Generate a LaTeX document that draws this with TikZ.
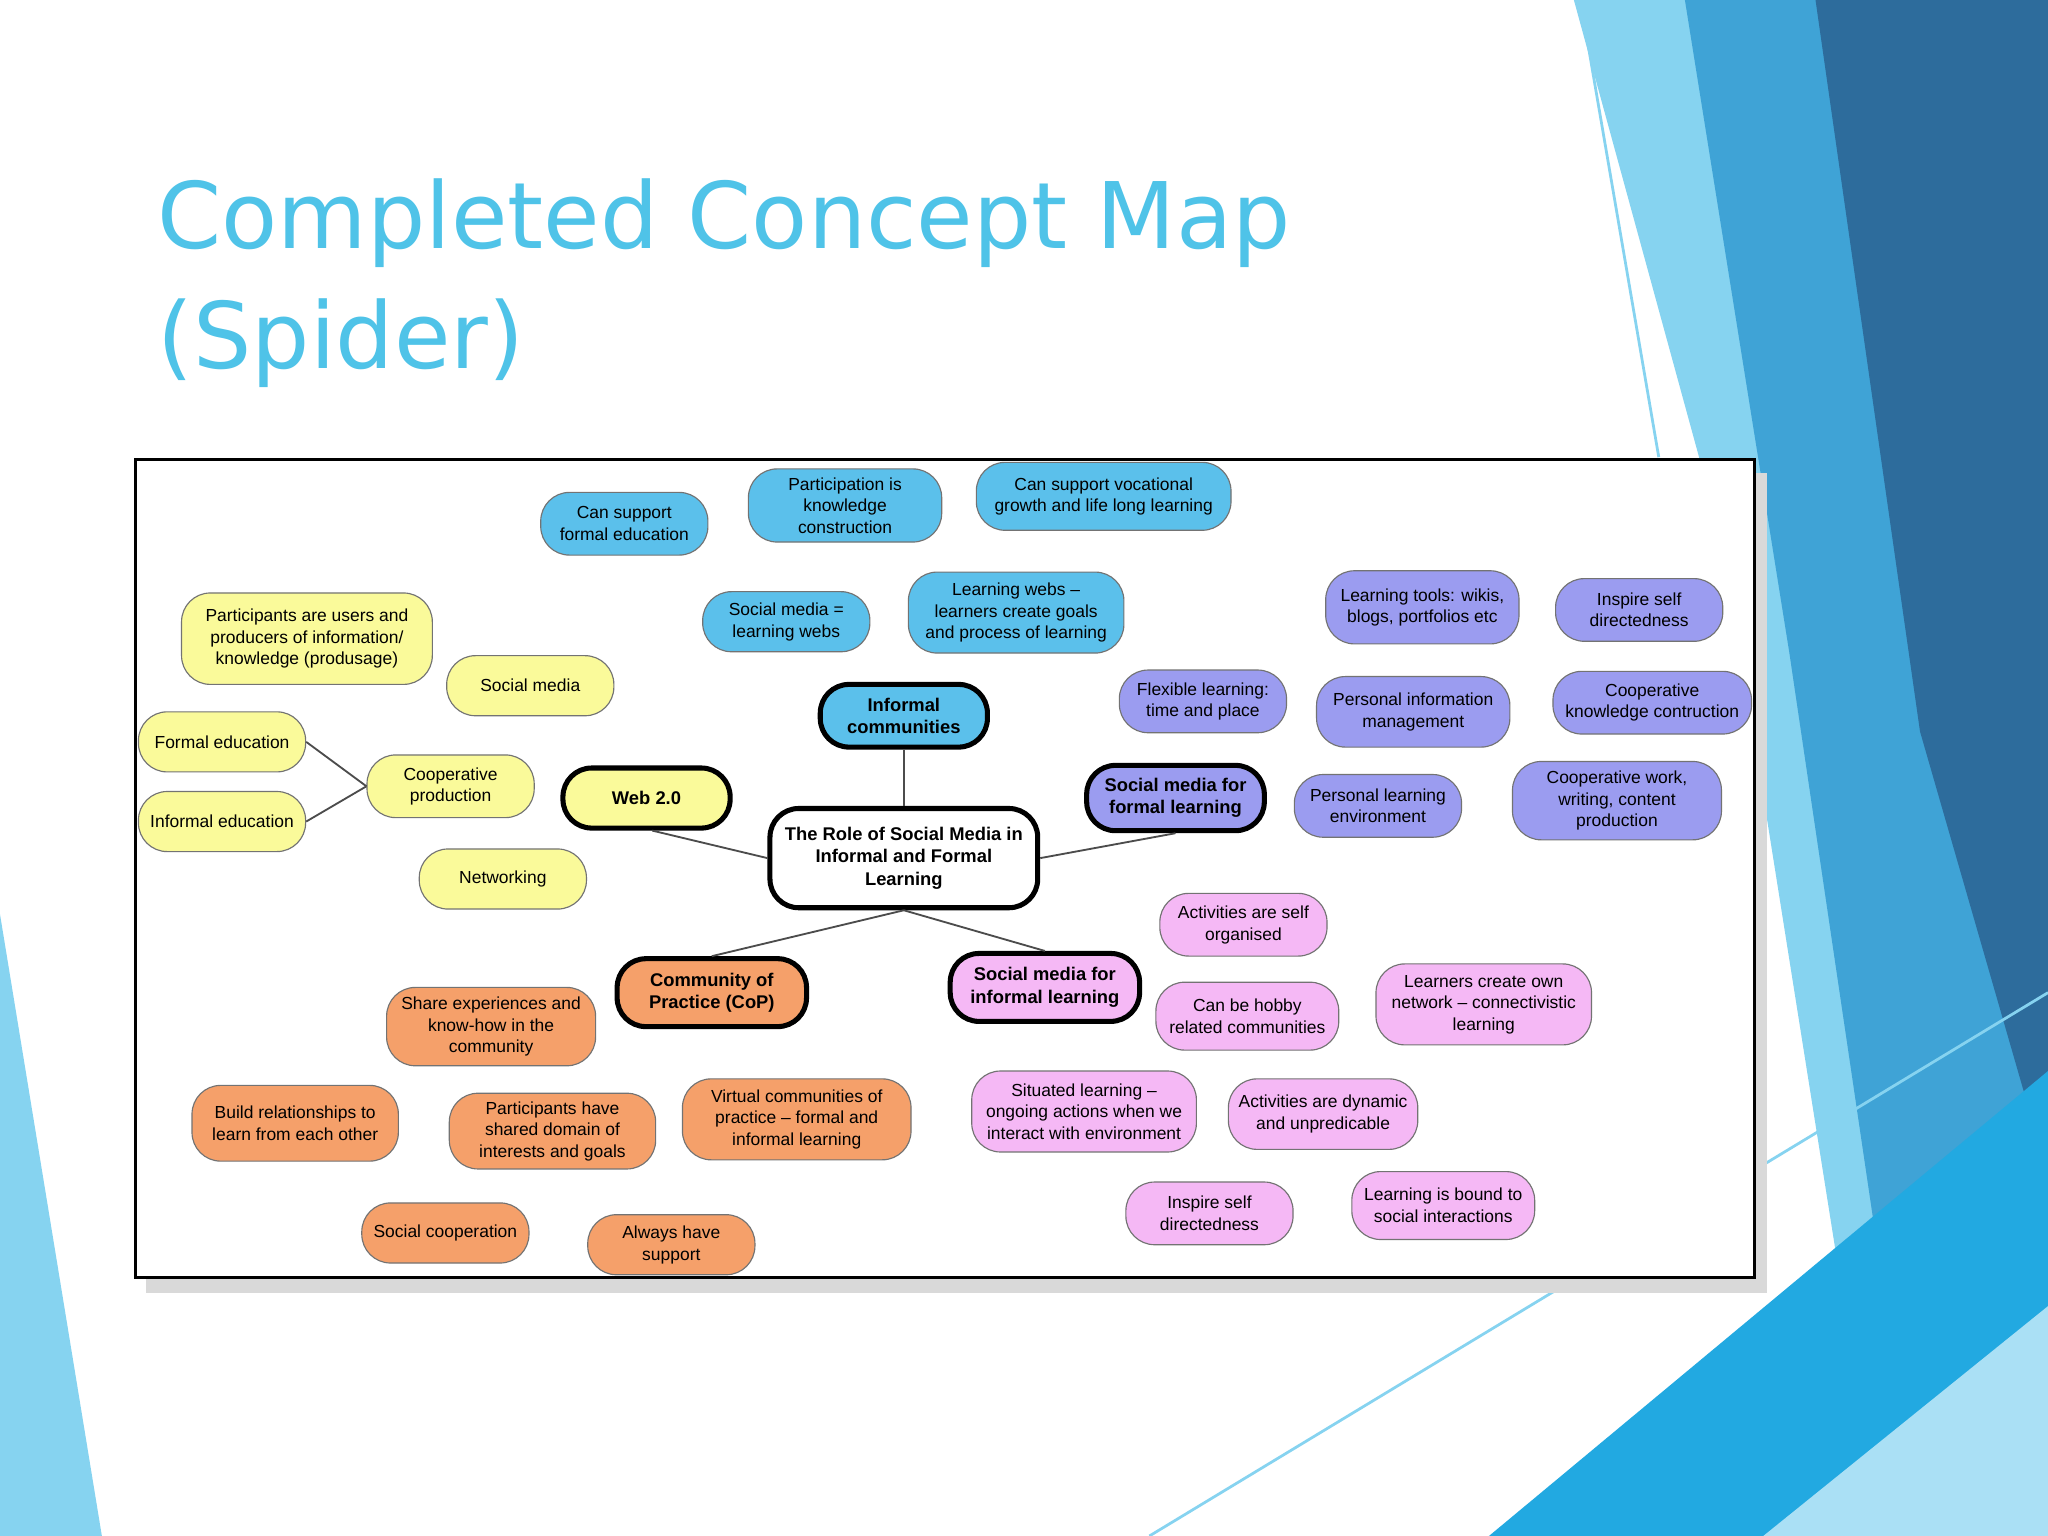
\documentclass[tikz,border=0pt]{standalone}
\usepackage{fontspec}
\setmainfont{Liberation Sans}
\newfontfamily\titlefont{DejaVu Sans}
\definecolor{ttl}{HTML}{4FC3E8}
\definecolor{cyel}{HTML}{FAFA9A}
\definecolor{cblu}{HTML}{5BC0EB}
\definecolor{cpur}{HTML}{9B9CF0}
\definecolor{cpin}{HTML}{F5B8F5}
\definecolor{cora}{HTML}{F5A06A}
\definecolor{lb}{HTML}{86D3F0}
\definecolor{mb}{HTML}{3FA3D6}
\definecolor{db}{HTML}{2D6C9C}
\definecolor{bb}{HTML}{22A9E1}
\begin{document}
\begin{tikzpicture}[x=0.01cm,y=-0.01cm,
  cn/.style={draw=black!55,line width=0.25pt,rounded corners=0.22cm,align=center,inner sep=0pt,font=\fontsize{3.8}{4.7}\selectfont},
  mn/.style={cn,draw=black,line width=1.1pt,font=\fontsize{4}{4.9}\selectfont\bfseries},
  lk/.style={draw=black!70,line width=0.4pt}]
\useasboundingbox (0,0) rectangle (1568,1176);
\fill[white] (0,0) rectangle (1568,1176);
% right decoration
\fill[lb] (1205,0) -- (1568,0) -- (1568,1176) -- (1440,1176) -- (1320,420) -- cycle;
\fill[mb] (1290,0) -- (1568,0) -- (1568,1176) -- (1470,1176) -- (1370,500) -- cycle;
\fill[db] (1390,0) -- (1568,0) -- (1568,900) -- (1470,560) -- cycle;
\fill[bb] (1140,1176) -- (1568,820) -- (1568,1176) -- cycle;
\fill[lb!70] (1350,1176) -- (1568,1000) -- (1568,1176) -- cycle;
\draw[lb,line width=0.6pt] (1210,0) -- (1270,350);
\draw[lb,line width=0.6pt] (880,1176) -- (1568,760);
% left decoration
\fill[lb] (0,700) -- (78,1176) -- (0,1176) -- cycle;
% title
\node[anchor=base west,text=ttl,font=\titlefont\fontsize{20}{24}\selectfont,inner sep=0pt] (t1) at (120,190) {Completed Concept Map};
\node[anchor=base west,text=ttl,font=\titlefont\fontsize{20}{24}\selectfont,inner sep=0pt] (t2) at (120,282) {(Spider)};
% frame
\fill[black!15] (112,362) rectangle (1353,990);
\draw[black,fill=white,line width=0.6pt] (104,352) rectangle (1343,978);
\def\N#1#2#3#4#5#6#7#8{\node[#1,fill=#2,minimum width=#5*0.01cm,minimum height=#6*0.01cm] (#7) at (#3,#4) {#8};}
\N{mn}{white}{692}{657}{205}{76}{c}{The Role of Social Media in\\Informal and Formal\\Learning}
% blue
\N{cn}{cblu}{478}{401}{128}{48}{b1}{Can support\\formal education}
\N{cn}{cblu}{647}{387}{148}{56}{b2}{Participation is\\knowledge\\construction}
\N{cn}{cblu}{845}{380}{195}{52}{b3}{Can support vocational\\growth and life long learning}
\N{cn}{cblu}{602}{476}{128}{46}{b4}{Social media =\\learning webs}
\N{cn}{cblu}{778}{469}{165}{62}{b5}{Learning webs –\\learners create goals\\and process of learning}
\N{mn}{cblu}{692}{548}{128}{48}{bm}{Informal\\communities}
% yellow
\N{cn}{cyel}{235}{489}{192}{70}{y1}{Participants are users and\\producers of information/\\knowledge (produsage)}
\N{cn}{cyel}{406}{525}{128}{46}{y2}{Social media}
\N{cn}{cyel}{170}{568}{128}{46}{y3}{Formal education}
\N{cn}{cyel}{345}{602}{128}{48}{y4}{Cooperative\\production}
\N{cn}{cyel}{170}{629}{128}{46}{y5}{Informal education}
\N{cn}{cyel}{385}{673}{128}{46}{y6}{Networking}
\N{mn}{cyel}{495}{611}{128}{46}{ym}{Web 2.0}
% purple
\N{cn}{cpur}{1089}{465}{148}{56}{p1}{Learning tools: wikis,\\blogs, portfolios etc}
\N{cn}{cpur}{1255}{467}{128}{48}{p2}{Inspire self\\directedness}
\N{cn}{cpur}{921}{537}{128}{48}{p3}{Flexible learning:\\time and place}
\N{cn}{cpur}{1082}{545}{148}{54}{p4}{Personal information\\management}
\N{cn}{cpur}{1265}{538}{152}{48}{p5}{Cooperative\\knowledge contruction}
\N{mn}{cpur}{900}{611}{136}{50}{pm}{Social media for\\formal learning}
\N{cn}{cpur}{1055}{617}{128}{48}{p6}{Personal learning\\environment}
\N{cn}{cpur}{1238}{613}{160}{60}{p7}{Cooperative work,\\writing, content\\production}
% pink
\N{cn}{cpin}{952}{708}{128}{48}{k1}{Activities are self\\organised}
\N{mn}{cpin}{800}{756}{145}{52}{km}{Social media for\\informal learning}
\N{cn}{cpin}{955}{778}{140}{52}{k2}{Can be hobby\\related communities}
\N{cn}{cpin}{1136}{769}{165}{62}{k3}{Learners create own\\network – connectivistic\\learning}
\N{cn}{cpin}{830}{851}{172}{62}{k4}{Situated learning –\\ongoing actions when we\\interact with environment}
\N{cn}{cpin}{1013}{853}{145}{54}{k5}{Activities are dynamic\\and unpredicable}
\N{cn}{cpin}{926}{929}{128}{48}{k6}{Inspire self\\directedness}
\N{cn}{cpin}{1105}{923}{140}{52}{k7}{Learning is bound to\\social interactions}
% orange
\N{mn}{cora}{545}{760}{145}{52}{om}{Community of\\Practice (CoP)}
\N{cn}{cora}{376}{786}{160}{60}{o1}{Share experiences and\\know-how in the\\community}
\N{cn}{cora}{226}{860}{158}{58}{o2}{Build relationships to\\learn from each other}
\N{cn}{cora}{423}{866}{158}{58}{o3}{Participants have\\shared domain of\\interests and goals}
\N{cn}{cora}{610}{857}{175}{62}{o4}{Virtual communities of\\practice – formal and\\informal learning}
\N{cn}{cora}{341}{944}{128}{46}{o5}{Social cooperation}
\N{cn}{cora}{514}{953}{128}{46}{o6}{Always have\\support}
% links
\draw[lk] (c.north) -- (bm.south);
\draw[lk] (c.west) -- (ym.-80);
\draw[lk] (c.east) -- (pm.south);
\draw[lk] (c.south) -- (om.north);
\draw[lk] (c.south) -- (km.north);
\draw[lk] (y3.east) -- (y4.west);
\draw[lk] (y5.east) -- (y4.west);
\end{tikzpicture}
\end{document}
